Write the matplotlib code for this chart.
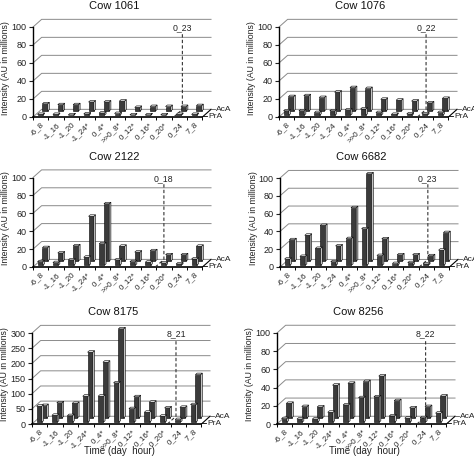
import matplotlib
matplotlib.use("Agg")
import matplotlib.pyplot as plt
from matplotlib.patches import Polygon

plt.rcParams['font.family'] = ['Liberation Sans', 'DejaVu Sans']

W, H = 474, 463

# ---- data ----
cows = ["Cow 1061", "Cow 1076", "Cow 2122", "Cow 6682", "Cow 8175", "Cow 8256"]
cats_a = ["-6_8", "-1_16", "-1_20", "-1_24*", "0_4*", ">>0_8*",
          "0_12*", "0_16*", "0_20*", "0_24", "7_8"]
cats_b = ["-6_8", "-1_16", "-1_20", "-1_24", "0_4*", ">>0_8*",
          "0_12*", "0_16*", "0_20*", "0_24", "7_8"]
cat_labels = [cats_a, cats_b, cats_a, cats_b, cats_a, cats_a]

aca_1061 = [8, 7, 7, 10, 10, 11, 4, 5, 5, 5, 6]
pra_1061 = [1, 1, 0.5, 1.5, 2.5, 2, 0.5, 0.5, 0.5, 1, 1]
aca_1076 = [16, 17, 15, 21, 26, 25, 13, 12, 11, 9, 14]
pra_1076 = [5, 5, 3, 5, 6, 7, 3, 1, 1.5, 1.5, 3]
aca_2122 = [15, 9, 17, 50, 64, 16.5, 10, 11.5, 7, 7, 16.5]
pra_2122 = [4, 3, 6, 9, 24, 6, 4, 3.5, 2.5, 1.5, 7]
aca_6682 = [24, 29, 40, 17, 60, 98, 25, 7, 7, 6, 32]
pra_6682 = [7, 10, 19, 4, 30, 41, 11, 2, 3, 1.5, 17]
aca_8175 = [41, 50, 48, 217, 184, 294, 70, 52, 33, 35, 143]
pra_8175 = [53, 23, 22, 86, 86, 130, 45, 33, 20, 9, 58]
aca_8256 = [16, 12.5, 12, 36, 38, 40, 46, 19, 11, 12.5, 24]
pra_8256 = [4, 3.5, 3.5, 11, 19, 27, 28, 7, 4.5, 5, 10]

aca = [aca_1061, aca_1076, aca_2122, aca_6682, aca_8175, aca_8256]
pra = [pra_1061, pra_1076, pra_2122, pra_6682, pra_8175, pra_8256]

ymaxes = [100, 100, 100, 100, 300, 100]
yticks = [list(range(0, 101, 20))] * 4 + [list(range(0, 301, 50)), list(range(0, 101, 20))]

# time marker (dashed line) position in category units and its label
mark_pos = [9.7, 9.55, 8.5, 9.6, 9.35, 9.65]
mark_lab = ["0_23", "0_22", "0_18", "0_23", "8_21", "8_22"]

# ---- layout (pixels) ----
# (y-axis x, y of zero, px per unit)
panels = [(33, 117, 0.90), (279, 117, 0.90),
          (33, 267, 0.895), (280, 267, 0.89),
          (32, 424, 0.303), (277, 424, 0.91)]

NCAT = 11
CAT_PX = 15.4
DX = 0.56          # depth offset in category units
DFRAC = 0.085      # depth offset as fraction of ymax
T_PRA, T_ACA = 0.22, 0.78
BW = 0.34
BOFF = 0.17
BDEPTH = 0.2

fig = plt.figure(figsize=(W / 100, H / 100), dpi=100)


def bar3d(ax, x0, b, h, sx, sy, z):
    ax.bar(x0, h, width=BW, bottom=b, align='edge', color='#3b3b3b',
           edgecolor='k', lw=0.4, zorder=z)
    top = Polygon([(x0, b + h), (x0 + BW, b + h), (x0 + BW + sx, b + h + sy),
                   (x0 + sx, b + h + sy)], fc='#e8e8e8', ec='k', lw=0.4, zorder=z)
    side = Polygon([(x0 + BW, b), (x0 + BW + sx, b + sy), (x0 + BW + sx, b + h + sy),
                    (x0 + BW, b + h)], fc='#c4c4c4', ec='k', lw=0.4, zorder=z)
    ax.add_patch(side)
    ax.add_patch(top)


for k in range(6):
    xa, y0, ppu = panels[k]
    ymax = ymaxes[k]
    dy = DFRAC * ymax
    ytop = ymax + dy
    ax = fig.add_axes([xa / W, (H - y0) / H, (NCAT + DX) * CAT_PX / W, ytop * ppu / H])
    ax.set_xlim(0, NCAT + DX)
    ax.set_ylim(0, ytop)
    ax.patch.set_alpha(0)
    for s in ['top', 'right']:
        ax.spines[s].set_visible(False)
    ax.spines['left'].set_bounds(0, ymax)
    ax.spines['bottom'].set_bounds(0, NCAT)
    ax.spines['left'].set_linewidth(1.0)
    ax.spines['bottom'].set_linewidth(1.2)

    ax.set_yticks(yticks[k])
    ax.tick_params(axis='y', direction='out', length=3, width=0.8, labelsize=6.5,
                   pad=1.5, colors='#222222')
    ax.set_xticks(range(NCAT + 1))
    ax.set_xticklabels([])
    ax.tick_params(axis='x', which='major', length=2, width=0.7)
    ax.set_xticks([i + 0.5 for i in range(NCAT)], minor=True)
    ax.set_xticklabels(cat_labels[k], minor=True, rotation=45, ha='right',
                       rotation_mode='anchor', fontsize=5.8, color='#222222')
    ax.tick_params(axis='x', which='minor', length=0, pad=3)

    # back wall gridlines
    for v in yticks[k]:
        ax.plot([0, DX, NCAT + DX], [v, v + dy, v + dy], color='#8a8a8a', lw=0.7,
                zorder=1, clip_on=False)

    # right floor edge (depth axis) and series labels
    ax.plot([NCAT, NCAT + DX], [0, dy], color='k', lw=0.8, clip_on=False, zorder=5)
    ax.plot([NCAT + DX, NCAT + DX + 0.25], [dy, dy], color='#555555', lw=0.6,
            clip_on=False, zorder=5)
    ax.text(NCAT + DX + 0.3, dy, "AcA", fontsize=6, va='center', ha='left',
            color='#222222', clip_on=False)
    ax.plot([NCAT + 0.1 * DX, NCAT + 0.3], [0.1 * dy, 0.1 * dy], color='k', lw=0.6,
            clip_on=False, zorder=5)
    ax.text(NCAT + 0.36, 0.05 * dy, "PrA", fontsize=6, va='center', ha='left',
            color='#222222', clip_on=False)

    sx, sy = BDEPTH * DX, BDEPTH * dy
    # back row
    for i, h in enumerate(aca[k]):
        bar3d(ax, i + BOFF + T_ACA * DX, T_ACA * dy, h, sx, sy, 2)

    # time marker
    xm = mark_pos[k]
    mtop = 0.93 * ymax
    ax.plot([xm - DX, xm, xm], [0, dy, mtop], ls=(0, (3, 2)), color='#333333',
            lw=0.8, zorder=3, clip_on=False)
    ax.text(xm, mtop + 0.01 * ymax, mark_lab[k], ha='center', va='bottom',
            fontsize=6.3, color='#222222')

    # front row
    for i, h in enumerate(pra[k]):
        bar3d(ax, i + BOFF + T_PRA * DX, T_PRA * dy, h, sx, sy, 4)

    # title and y label
    y100 = y0 - ymax * ppu
    fig.text((xa + 81) / W, 1 - (y100 - 21) / H, cows[k], ha='center', va='center',
             fontsize=8, color='#111111')
    fig.text((xa - 27) / W, 1 - ((y0 + y100) / 2 - 4) / H,
             "Intensity (AU in millions)", rotation=90, ha='center', va='center',
             fontsize=6.3, color='#222222')
    if k >= 4:
        fig.text((xa + 87) / W, 1 - 451 / H, "Time (day  hour)", ha='center',
                 va='center', fontsize=7, color='#222222')

fig.savefig("out.png", dpi=100)
